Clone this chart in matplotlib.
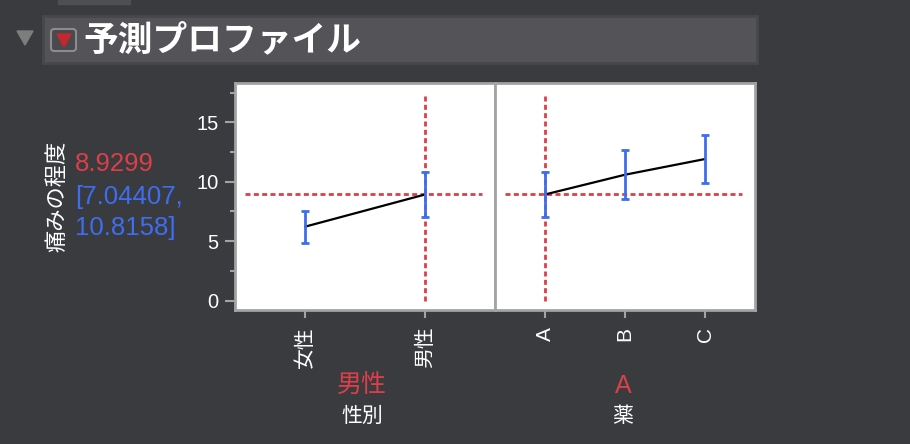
import matplotlib.pyplot as plt
from matplotlib.patches import Rectangle, Polygon, FancyBboxPatch

plt.rcParams['font.family'] = ['Liberation Sans', 'Noto Sans CJK JP', 'DejaVu Sans']

# prediction profiler values
sex_levels = ['女性', '男性']
sex_pred = [6.23, 8.9299]
sex_lo = [4.89, 7.04407]
sex_hi = [7.58, 10.8158]

drug_levels = ['A', 'B', 'C']
drug_pred = [8.9299, 10.59, 11.91]
drug_lo = [7.04407, 8.57, 9.92]
drug_hi = [10.8158, 12.67, 13.90]

current_sex = '男性'
current_drug = 'A'
current_pred = 8.9299
current_ci = (7.04407, 10.8158)

BG = '#3a3b3f'
RED = '#dc3f48'
BLUE = '#3d6ef0'
GRAY = '#a3a3a3'

W, H = 910, 444
fig = plt.figure(figsize=(W / 100, H / 100), dpi=100, facecolor=BG)

# background layer in pixel coordinates
bg = fig.add_axes([0, 0, 1, 1], zorder=-1)
bg.set_xlim(0, W)
bg.set_ylim(H, 0)
bg.axis('off')
bg.add_patch(Rectangle((58, 0), 72, 4, color='#4f4e53'))
bg.add_patch(Rectangle((43, 16), 714, 47, facecolor='#545357', edgecolor='#48474b', lw=2))
bg.add_patch(Polygon([(17, 31), (33, 31), (25, 45)], color='#7d7d7d'))
bg.add_patch(FancyBboxPatch((51, 29), 25, 22, boxstyle='round,pad=0,rounding_size=3',
                            facecolor='#4a494d', edgecolor='#8c8c8c', lw=1.5))
bg.add_patch(Polygon([(57, 34), (71, 34), (64, 47)], color='#c4272e'))
bg.text(83, 40, '予測プロファイル', color='white', fontsize=25, fontweight='bold',
        va='center', ha='left', family=['Noto Sans CJK JP'])

# y axis label and current value
bg.text(57, 196, '痛みの程度', color='white', fontsize=16, rotation=90,
        ha='center', va='center', family=['Noto Sans CJK JP'])
bg.text(75, 164, f'{current_pred:.4f}', color=RED, fontsize=18.5, va='center', ha='left')
bg.text(75, 197, f'[{current_ci[0]:.5f},', color=BLUE, fontsize=18.5, va='center', ha='left')
bg.text(75, 228, f'{current_ci[1]:.4f}]', color=BLUE, fontsize=18.5, va='center', ha='left')


def panel(rect, levels, pred, lo, hi, current, xlim, show_y):
    ax = fig.add_axes(rect)
    ax.set_facecolor('white')
    x = list(range(len(levels)))
    ax.plot(x, pred, color='black', lw=1.6, zorder=3)
    ax.errorbar(x, pred, yerr=[[p - l for p, l in zip(pred, lo)], [h - p for p, h in zip(pred, hi)]],
                fmt='none', ecolor=BLUE, elinewidth=2, capsize=3, capthick=2, zorder=4)
    ax.axhline(current_pred, xmin=0.038, xmax=0.95, color=RED, lw=2.0,
               dashes=(1.8, 1.2), zorder=2)
    ax.vlines(levels.index(current), 0, 17.2, color=RED, lw=2.0,
              linestyles=(0, (1.8, 1.2)), zorder=2)
    ax.set_xlim(*xlim)
    ax.set_ylim(-0.78, 18.3)
    ax.set_xticks(x)
    ax.set_xticklabels(levels, rotation=90, fontsize=15, color='white',
                       family=['Liberation Sans', 'Noto Sans CJK JP'])
    ax.tick_params(axis='x', length=6, width=1.5, color=GRAY, pad=6)
    for s in ax.spines.values():
        s.set_color(GRAY)
        s.set_linewidth(2)
    if show_y:
        ax.set_yticks([0, 5, 10, 15])
        ax.set_yticks([2.5, 7.5, 12.5, 17.5], minor=True)
        ax.tick_params(axis='y', which='major', length=7, width=1.5, color=GRAY,
                       labelcolor='white', labelsize=14.5, pad=5)
        ax.tick_params(axis='y', which='minor', length=3.5, width=1.5, color=GRAY)
    else:
        ax.set_yticks([])
    return ax


top, bottom = 83, 310
h = (bottom - top) / H
b = (H - bottom) / H
panel([235 / W, b, 260 / W, h], sex_levels, sex_pred, sex_lo, sex_hi, current_sex,
      (-0.587, 1.583), True)
panel([495 / W, b, 260 / W, h], drug_levels, drug_pred, drug_lo, drug_hi, current_drug,
      (-0.625, 2.625), False)

# factor names and current settings
bg.text(362, 386, current_sex, color=RED, fontsize=18, ha='center', va='center',
        family=['Noto Sans CJK JP'])
bg.text(362, 416, '性別', color='white', fontsize=15, ha='center', va='center',
        family=['Noto Sans CJK JP'])
bg.text(623, 386, current_drug, color=RED, fontsize=18, ha='center', va='center')
bg.text(623, 416, '薬', color='white', fontsize=15, ha='center', va='center',
        family=['Noto Sans CJK JP'])

fig.savefig('out.png', dpi=100, facecolor=BG)
